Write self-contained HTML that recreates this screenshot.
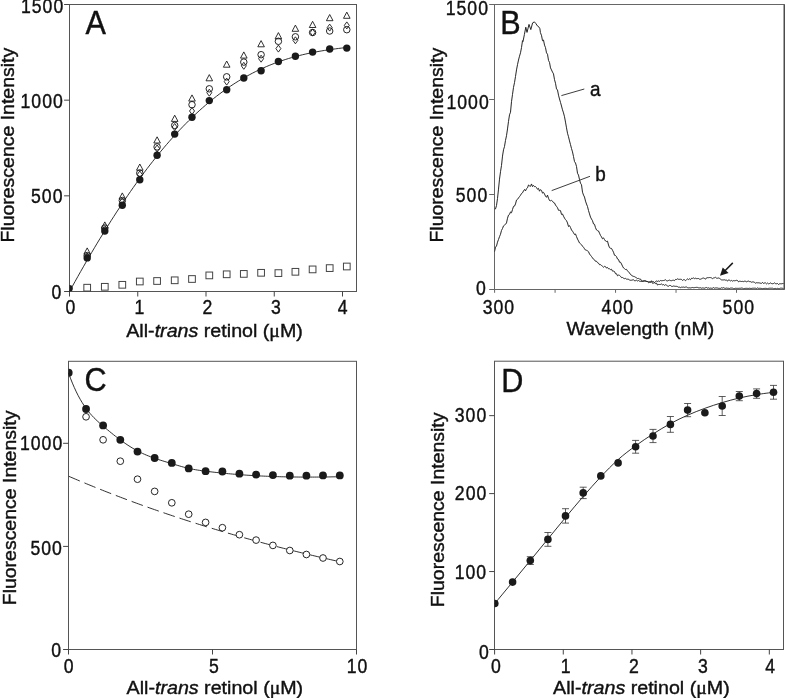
<!DOCTYPE html>
<html lang="en">
<head>
<meta charset="utf-8">
<title>Fluorescence titration of all-trans retinol</title>
<style>
html,body{margin:0;padding:0;background:#fff;}
body{width:785px;height:698px;overflow:hidden;}
svg{display:block;font-family:"Liberation Sans",sans-serif;}
text{fill:#111;stroke:#111;stroke-width:0.4px;}
</style>
</head>
<body>
<svg width="785" height="698" viewBox="0 0 785 698">
<rect x="0" y="0" width="785" height="698" fill="#fff"/>
<g id="panelA">
<rect x="69.5" y="4.5" width="287" height="287" fill="none" stroke="#555" stroke-width="1"/>
<line x1="64.1" y1="291.5" x2="69.5" y2="291.5" stroke="#444" stroke-width="1"/>
<text transform="translate(62.34 298.9) scale(0.9 1)" font-size="19.6" text-anchor="end" letter-spacing="1.15">0</text>
<line x1="64.1" y1="195.83" x2="69.5" y2="195.83" stroke="#444" stroke-width="1"/>
<text transform="translate(63.54 203.2) scale(0.9 1)" font-size="19.6" text-anchor="end" letter-spacing="1.15">500</text>
<line x1="64.1" y1="100.17" x2="69.5" y2="100.17" stroke="#444" stroke-width="1"/>
<text transform="translate(63.84 107.5) scale(0.9 1)" font-size="19.6" text-anchor="end" letter-spacing="1.15">1000</text>
<line x1="64.1" y1="4.5" x2="69.5" y2="4.5" stroke="#444" stroke-width="1"/>
<text transform="translate(64.24 13.4) scale(0.9 1)" font-size="19.6" text-anchor="end" letter-spacing="1.15">1500</text>
<line x1="69.5" y1="291.5" x2="69.5" y2="296.5" stroke="#444" stroke-width="1"/>
<text transform="translate(70.92 314) scale(0.9 1)" font-size="19.6" text-anchor="middle" letter-spacing="1.15">0</text>
<line x1="137.75" y1="291.5" x2="137.75" y2="296.5" stroke="#444" stroke-width="1"/>
<text transform="translate(139.82 313.8) scale(0.9 1)" font-size="19.6" text-anchor="middle" letter-spacing="1.15">1</text>
<line x1="206" y1="291.5" x2="206" y2="296.5" stroke="#444" stroke-width="1"/>
<text transform="translate(207.92 313.8) scale(0.9 1)" font-size="19.6" text-anchor="middle" letter-spacing="1.15">2</text>
<line x1="274.25" y1="291.5" x2="274.25" y2="296.5" stroke="#444" stroke-width="1"/>
<text transform="translate(276.32 313.8) scale(0.9 1)" font-size="19.6" text-anchor="middle" letter-spacing="1.15">3</text>
<line x1="342.5" y1="291.5" x2="342.5" y2="296.5" stroke="#444" stroke-width="1"/>
<text transform="translate(343.22 313.8) scale(0.9 1)" font-size="19.6" text-anchor="middle" letter-spacing="1.15">4</text>
<text transform="translate(214.55 337) scale(1.03 1)" font-size="19.1" text-anchor="middle">All-<tspan font-style="italic">trans</tspan> retinol (<tspan font-family="'Liberation Serif','DejaVu Serif',serif">μ</tspan>M)</text>
<text transform="translate(14 145.2) rotate(-90) scale(1.036 1)" font-size="18.8" text-anchor="middle">Fluorescence Intensity</text>
<text transform="translate(85.54 33.6) scale(0.948 1)" font-size="32.3" text-anchor="start">A</text>
<path d="M69.5 291.5C69.96 290.66 71.35 288.15 72.27 286.48C73.2 284.81 74.12 283.15 75.05 281.49C75.97 279.84 76.89 278.19 77.82 276.55C78.74 274.91 79.67 273.28 80.59 271.65C81.52 270.02 82.44 268.4 83.36 266.79C84.29 265.18 85.21 263.57 86.14 261.97C87.06 260.37 87.99 258.78 88.91 257.2C89.84 255.62 90.76 254.04 91.68 252.47C92.61 250.9 93.53 249.34 94.46 247.79C95.38 246.24 96.31 244.69 97.23 243.15C98.15 241.62 99.08 240.09 100 238.57C100.93 237.05 101.85 235.53 102.78 234.03C103.7 232.52 104.62 231.03 105.55 229.54C106.47 228.05 107.4 226.57 108.32 225.1C109.25 223.63 110.17 222.17 111.09 220.71C112.02 219.26 112.94 217.81 113.87 216.38C114.79 214.94 115.72 213.51 116.64 212.09C117.57 210.67 118.49 209.26 119.41 207.86C120.34 206.46 121.26 205.07 122.19 203.69C123.11 202.3 124.04 200.93 124.96 199.56C125.88 198.2 126.81 196.84 127.73 195.49C128.66 194.15 129.58 192.81 130.51 191.48C131.43 190.15 132.35 188.83 133.28 187.52C134.2 186.22 135.13 184.92 136.05 183.62C136.98 182.33 137.9 181.05 138.82 179.78C139.75 178.51 140.67 177.25 141.6 176C142.52 174.74 143.45 173.5 144.37 172.27C145.3 171.03 146.22 169.81 147.14 168.6C148.07 167.38 148.99 166.18 149.92 164.99C150.84 163.79 151.77 162.61 152.69 161.43C153.61 160.26 154.54 159.09 155.46 157.94C156.39 156.78 157.31 155.64 158.24 154.5C159.16 153.37 160.08 152.25 161.01 151.13C161.93 150.02 162.86 148.91 163.78 147.82C164.71 146.72 165.63 145.64 166.56 144.56C167.48 143.49 168.4 142.42 169.33 141.37C170.25 140.31 171.18 139.27 172.1 138.23C173.03 137.2 173.95 136.17 174.87 135.16C175.8 134.14 176.72 133.14 177.65 132.15C178.57 131.15 179.5 130.17 180.42 129.19C181.34 128.22 182.27 127.25 183.19 126.3C184.12 125.35 185.04 124.4 185.97 123.47C186.89 122.54 187.81 121.61 188.74 120.7C189.66 119.78 190.59 118.88 191.51 117.99C192.44 117.09 193.36 116.21 194.28 115.34C195.21 114.46 196.13 113.6 197.06 112.75C197.98 111.89 198.91 111.05 199.83 110.22C200.76 109.38 201.68 108.56 202.6 107.75C203.53 106.93 204.45 106.13 205.38 105.34C206.3 104.54 207.23 103.76 208.15 102.98C209.07 102.21 210 101.45 210.92 100.69C211.85 99.94 212.77 99.19 213.7 98.46C214.62 97.72 215.54 97 216.47 96.28C217.39 95.57 218.32 94.86 219.24 94.17C220.17 93.47 221.09 92.79 222.01 92.11C222.94 91.43 223.86 90.76 224.79 90.11C225.71 89.45 226.64 88.8 227.56 88.16C228.49 87.52 229.41 86.89 230.33 86.27C231.26 85.65 232.18 85.04 233.11 84.44C234.03 83.84 234.96 83.25 235.88 82.66C236.8 82.08 237.73 81.51 238.65 80.94C239.58 80.38 240.5 79.82 241.43 79.28C242.35 78.73 243.27 78.19 244.2 77.66C245.12 77.13 246.05 76.61 246.97 76.1C247.9 75.59 248.82 75.09 249.75 74.59C250.67 74.1 251.59 73.61 252.52 73.13C253.44 72.66 254.37 72.19 255.29 71.73C256.22 71.27 257.14 70.82 258.06 70.37C258.99 69.93 259.91 69.49 260.84 69.07C261.76 68.64 262.69 68.22 263.61 67.81C264.53 67.4 265.46 66.99 266.38 66.6C267.31 66.2 268.23 65.81 269.16 65.43C270.08 65.05 271 64.68 271.93 64.32C272.85 63.95 273.78 63.59 274.7 63.24C275.63 62.89 276.55 62.55 277.48 62.22C278.4 61.88 279.32 61.55 280.25 61.23C281.17 60.91 282.1 60.59 283.02 60.29C283.95 59.98 284.87 59.68 285.79 59.38C286.72 59.09 287.64 58.8 288.57 58.52C289.49 58.24 290.42 57.97 291.34 57.7C292.26 57.43 293.19 57.17 294.11 56.91C295.04 56.66 295.96 56.41 296.89 56.17C297.81 55.92 298.73 55.68 299.66 55.45C300.58 55.22 301.51 54.99 302.43 54.77C303.36 54.55 304.28 54.34 305.21 54.13C306.13 53.92 307.05 53.71 307.98 53.51C308.9 53.31 309.83 53.12 310.75 52.93C311.68 52.74 312.6 52.55 313.52 52.37C314.45 52.19 315.37 52.02 316.3 51.85C317.22 51.68 318.15 51.51 319.07 51.35C319.99 51.18 320.92 51.03 321.84 50.87C322.77 50.72 323.69 50.57 324.62 50.42C325.54 50.27 326.46 50.13 327.39 49.99C328.31 49.85 329.24 49.71 330.16 49.58C331.09 49.45 332.01 49.32 332.94 49.19C333.86 49.06 334.78 48.94 335.71 48.82C336.63 48.7 337.56 48.58 338.48 48.46C339.41 48.34 340.33 48.23 341.25 48.12C342.18 48.01 343.1 47.9 344.03 47.79C344.95 47.68 346.34 47.52 346.8 47.47" fill="none" stroke="#1a1a1a" stroke-width="0.9"/>
<rect x="83.85" y="284.35" width="6.7" height="6.7" fill="none" stroke="#444" stroke-width="1"/>
<rect x="101.45" y="283.45" width="6.7" height="6.7" fill="none" stroke="#444" stroke-width="1"/>
<rect x="118.95" y="281.45" width="6.7" height="6.7" fill="none" stroke="#444" stroke-width="1"/>
<rect x="136.45" y="278.15" width="6.7" height="6.7" fill="none" stroke="#444" stroke-width="1"/>
<rect x="153.75" y="277.65" width="6.7" height="6.7" fill="none" stroke="#444" stroke-width="1"/>
<rect x="171.35" y="276.95" width="6.7" height="6.7" fill="none" stroke="#444" stroke-width="1"/>
<rect x="188.65" y="275.65" width="6.7" height="6.7" fill="none" stroke="#444" stroke-width="1"/>
<rect x="205.95" y="272.05" width="6.7" height="6.7" fill="none" stroke="#444" stroke-width="1"/>
<rect x="223.35" y="270.95" width="6.7" height="6.7" fill="none" stroke="#444" stroke-width="1"/>
<rect x="240.45" y="270.55" width="6.7" height="6.7" fill="none" stroke="#444" stroke-width="1"/>
<rect x="257.75" y="269.45" width="6.7" height="6.7" fill="none" stroke="#444" stroke-width="1"/>
<rect x="275.05" y="269.75" width="6.7" height="6.7" fill="none" stroke="#444" stroke-width="1"/>
<rect x="292.05" y="268.45" width="6.7" height="6.7" fill="none" stroke="#444" stroke-width="1"/>
<rect x="309.25" y="266.05" width="6.7" height="6.7" fill="none" stroke="#444" stroke-width="1"/>
<rect x="326.35" y="264.75" width="6.7" height="6.7" fill="none" stroke="#444" stroke-width="1"/>
<rect x="343.45" y="263.15" width="6.7" height="6.7" fill="none" stroke="#444" stroke-width="1"/>
<path d="M87.2 253L89.7 256.5L87.2 260L84.7 256.5Z" fill="none" stroke="#1a1a1a" stroke-width="0.9"/>
<circle cx="87.2" cy="255.5" r="3.25" fill="none" stroke="#1a1a1a" stroke-width="0.95"/>
<path d="M87.2 247.9L90.5 254.1L83.9 254.1Z" fill="none" stroke="#1a1a1a" stroke-width="0.9"/>
<path d="M104.8 225.5L107.3 229L104.8 232.5L102.3 229Z" fill="none" stroke="#1a1a1a" stroke-width="0.9"/>
<circle cx="104.8" cy="228" r="3.25" fill="none" stroke="#1a1a1a" stroke-width="0.95"/>
<path d="M104.8 221.9L108.1 228.1L101.5 228.1Z" fill="none" stroke="#1a1a1a" stroke-width="0.9"/>
<path d="M122.3 198L124.8 201.5L122.3 205L119.8 201.5Z" fill="none" stroke="#1a1a1a" stroke-width="0.9"/>
<circle cx="122.3" cy="200.5" r="3.25" fill="none" stroke="#1a1a1a" stroke-width="0.95"/>
<path d="M122.3 192.9L125.6 199.1L119 199.1Z" fill="none" stroke="#1a1a1a" stroke-width="0.9"/>
<path d="M139.8 171L142.3 174.5L139.8 178L137.3 174.5Z" fill="none" stroke="#1a1a1a" stroke-width="0.9"/>
<circle cx="139.8" cy="173.1" r="3.25" fill="none" stroke="#1a1a1a" stroke-width="0.95"/>
<path d="M139.8 164L143.1 170.2L136.5 170.2Z" fill="none" stroke="#1a1a1a" stroke-width="0.9"/>
<path d="M157.1 145L159.6 148.5L157.1 152L154.6 148.5Z" fill="none" stroke="#1a1a1a" stroke-width="0.9"/>
<circle cx="157.1" cy="146.9" r="3.25" fill="none" stroke="#1a1a1a" stroke-width="0.95"/>
<path d="M157.1 136.8L160.4 143L153.8 143Z" fill="none" stroke="#1a1a1a" stroke-width="0.9"/>
<path d="M174.7 123.5L177.2 127L174.7 130.5L172.2 127Z" fill="none" stroke="#1a1a1a" stroke-width="0.9"/>
<circle cx="174.7" cy="125.4" r="3.25" fill="none" stroke="#1a1a1a" stroke-width="0.95"/>
<path d="M174.7 115.2L178 121.4L171.4 121.4Z" fill="none" stroke="#1a1a1a" stroke-width="0.9"/>
<path d="M192 107.5L194.5 111L192 114.5L189.5 111Z" fill="none" stroke="#1a1a1a" stroke-width="0.9"/>
<circle cx="192" cy="104.7" r="3.25" fill="none" stroke="#1a1a1a" stroke-width="0.95"/>
<path d="M192 94.9L195.3 101.1L188.7 101.1Z" fill="none" stroke="#1a1a1a" stroke-width="0.9"/>
<path d="M209.3 89.2L211.8 92.7L209.3 96.2L206.8 92.7Z" fill="none" stroke="#1a1a1a" stroke-width="0.9"/>
<circle cx="209.3" cy="88.8" r="3.25" fill="none" stroke="#1a1a1a" stroke-width="0.95"/>
<path d="M209.3 74.6L212.6 80.8L206 80.8Z" fill="none" stroke="#1a1a1a" stroke-width="0.9"/>
<path d="M226.7 78.1L229.2 81.6L226.7 85.1L224.2 81.6Z" fill="none" stroke="#1a1a1a" stroke-width="0.9"/>
<circle cx="226.7" cy="76.8" r="3.25" fill="none" stroke="#1a1a1a" stroke-width="0.95"/>
<path d="M226.7 61L230 67.2L223.4 67.2Z" fill="none" stroke="#1a1a1a" stroke-width="0.9"/>
<path d="M243.8 62.3L246.3 65.8L243.8 69.3L241.3 65.8Z" fill="none" stroke="#1a1a1a" stroke-width="0.9"/>
<circle cx="243.8" cy="62.1" r="3.25" fill="none" stroke="#1a1a1a" stroke-width="0.95"/>
<path d="M243.8 51.9L247.1 58.1L240.5 58.1Z" fill="none" stroke="#1a1a1a" stroke-width="0.9"/>
<path d="M261.1 55.2L263.6 58.7L261.1 62.2L258.6 58.7Z" fill="none" stroke="#1a1a1a" stroke-width="0.9"/>
<circle cx="261.1" cy="54.7" r="3.25" fill="none" stroke="#1a1a1a" stroke-width="0.95"/>
<path d="M261.1 40.6L264.4 46.8L257.8 46.8Z" fill="none" stroke="#1a1a1a" stroke-width="0.9"/>
<path d="M278.4 45.1L280.9 48.6L278.4 52.1L275.9 48.6Z" fill="none" stroke="#1a1a1a" stroke-width="0.9"/>
<circle cx="278.4" cy="41.3" r="3.25" fill="none" stroke="#1a1a1a" stroke-width="0.95"/>
<path d="M278.4 32.6L281.7 38.8L275.1 38.8Z" fill="none" stroke="#1a1a1a" stroke-width="0.9"/>
<path d="M295.4 36.8L297.9 40.3L295.4 43.8L292.9 40.3Z" fill="none" stroke="#1a1a1a" stroke-width="0.9"/>
<circle cx="295.4" cy="36.8" r="3.25" fill="none" stroke="#1a1a1a" stroke-width="0.95"/>
<path d="M295.4 25.1L298.7 31.3L292.1 31.3Z" fill="none" stroke="#1a1a1a" stroke-width="0.9"/>
<path d="M312.6 29L315.1 32.5L312.6 36L310.1 32.5Z" fill="none" stroke="#1a1a1a" stroke-width="0.9"/>
<circle cx="312.6" cy="32.5" r="3.25" fill="none" stroke="#1a1a1a" stroke-width="0.95"/>
<path d="M312.6 21.3L315.9 27.5L309.3 27.5Z" fill="none" stroke="#1a1a1a" stroke-width="0.9"/>
<path d="M329.7 24.1L332.2 27.6L329.7 31.1L327.2 27.6Z" fill="none" stroke="#1a1a1a" stroke-width="0.9"/>
<circle cx="329.7" cy="31" r="3.25" fill="none" stroke="#1a1a1a" stroke-width="0.95"/>
<path d="M329.7 14.5L333 20.7L326.4 20.7Z" fill="none" stroke="#1a1a1a" stroke-width="0.9"/>
<path d="M346.8 21.9L349.3 25.4L346.8 28.9L344.3 25.4Z" fill="none" stroke="#1a1a1a" stroke-width="0.9"/>
<circle cx="346.8" cy="29.7" r="3.25" fill="none" stroke="#1a1a1a" stroke-width="0.95"/>
<path d="M346.8 12.1L350.1 18.3L343.5 18.3Z" fill="none" stroke="#1a1a1a" stroke-width="0.9"/>
<circle cx="87.2" cy="257.9" r="3.7" fill="#1a1a1a"/>
<circle cx="104.8" cy="231" r="3.7" fill="#1a1a1a"/>
<circle cx="122.3" cy="205.2" r="3.7" fill="#1a1a1a"/>
<circle cx="139.8" cy="179.7" r="3.7" fill="#1a1a1a"/>
<circle cx="157.1" cy="155.2" r="3.7" fill="#1a1a1a"/>
<circle cx="174.7" cy="134.1" r="3.7" fill="#1a1a1a"/>
<circle cx="192" cy="117.3" r="3.7" fill="#1a1a1a"/>
<circle cx="209.3" cy="100.6" r="3.7" fill="#1a1a1a"/>
<circle cx="226.7" cy="89.8" r="3.7" fill="#1a1a1a"/>
<circle cx="243.8" cy="78" r="3.7" fill="#1a1a1a"/>
<circle cx="261.1" cy="70.8" r="3.7" fill="#1a1a1a"/>
<circle cx="278.4" cy="61.5" r="3.7" fill="#1a1a1a"/>
<circle cx="295.4" cy="56.2" r="3.7" fill="#1a1a1a"/>
<circle cx="312.6" cy="52.1" r="3.7" fill="#1a1a1a"/>
<circle cx="329.7" cy="49" r="3.7" fill="#1a1a1a"/>
<circle cx="346.8" cy="48.1" r="3.7" fill="#1a1a1a"/>
<clipPath id="clipA"><rect x="69.5" y="4.5" width="287.0" height="287.0"/></clipPath>
<circle cx="69.5" cy="288.4" r="3.3" fill="#1a1a1a" clip-path="url(#clipA)"/>
</g>
<g id="panelB">
<rect x="494.5" y="4.5" width="289.7" height="285" fill="none" stroke="#666" stroke-width="1"/>
<line x1="784.3" y1="4.5" x2="784.3" y2="289.5" stroke="#444" stroke-width="1.2"/>
<line x1="489.2" y1="289.5" x2="494.5" y2="289.5" stroke="#666" stroke-width="1"/>
<text transform="translate(486.74 295.2) scale(0.9 1)" font-size="19.6" text-anchor="end" letter-spacing="1.15">0</text>
<line x1="489.2" y1="194.5" x2="494.5" y2="194.5" stroke="#666" stroke-width="1"/>
<text transform="translate(488.24 202.1) scale(0.9 1)" font-size="19.6" text-anchor="end" letter-spacing="1.15">500</text>
<line x1="489.2" y1="99.5" x2="494.5" y2="99.5" stroke="#666" stroke-width="1"/>
<text transform="translate(489.74 108.5) scale(0.9 1)" font-size="19.6" text-anchor="end" letter-spacing="1.15">1000</text>
<line x1="489.2" y1="4.5" x2="494.5" y2="4.5" stroke="#666" stroke-width="1"/>
<text transform="translate(489.04 14.7) scale(0.9 1)" font-size="19.6" text-anchor="end" letter-spacing="1.15">1500</text>
<line x1="494.6" y1="289.5" x2="494.6" y2="292.8" stroke="#666" stroke-width="1"/>
<line x1="555.08" y1="289.5" x2="555.08" y2="292.8" stroke="#666" stroke-width="1"/>
<line x1="615.56" y1="289.5" x2="615.56" y2="292.8" stroke="#666" stroke-width="1"/>
<line x1="676.04" y1="289.5" x2="676.04" y2="292.8" stroke="#666" stroke-width="1"/>
<line x1="736.52" y1="289.5" x2="736.52" y2="292.8" stroke="#666" stroke-width="1"/>
<text transform="translate(498.92 314.1) scale(0.9 1)" font-size="19.6" text-anchor="middle" letter-spacing="1.15">300</text>
<text transform="translate(617.82 314.1) scale(0.9 1)" font-size="19.6" text-anchor="middle" letter-spacing="1.15">400</text>
<text transform="translate(738.82 314.1) scale(0.9 1)" font-size="19.6" text-anchor="middle" letter-spacing="1.15">500</text>
<text transform="translate(640.35 335.3) scale(1.02 1)" font-size="19.1" text-anchor="middle">Wavelength (nM)</text>
<text transform="translate(443 145.2) rotate(-90) scale(1.036 1)" font-size="18.8" text-anchor="middle">Fluorescence Intensity</text>
<text transform="translate(500.19 33.6) scale(0.948 1)" font-size="32.3" text-anchor="start">B</text>
<clipPath id="clipB"><rect x="494.5" y="4.5" width="289.70000000000005" height="285.0"/></clipPath>
<g clip-path="url(#clipB)" fill="none" stroke="#1a1a1a" stroke-width="0.95" stroke-linejoin="round">
<path d="M494.5 208.95L495.5 208.92L496.5 205.52L497.5 198.47L498.5 189.13L499.5 179.15L500.5 171.72L501.5 165.42L502.5 156.11L503.5 149.86L504.5 146.47L505.5 140.39L506.5 135.7L507.5 128.95L508.5 121.39L509.5 114.86L510.5 112.18L511.5 101.68L512.5 94.45L513.5 87.38L514.5 82.64L515.5 76.49L516.5 69.91L517.5 64.7L518.5 60.06L519.5 56.2L520.5 52.77L521.5 47.58L522.5 40.66L523 41.5L524.4 34.5L525.8 27.2L527 32.4L529 24.4L530.8 29.6L532.6 22.9L534.4 21.9L535.9 23.6L537.3 25.8L538.6 26.6L539.9 28.7L540.4 32.5L541.6 35.8L542.5 40.72L543.5 40.02L544.5 45.11L545.5 47.63L546.5 52.87L547.5 54.22L548.5 60.4L549.5 62.38L550.5 67.86L551.5 69.93L552.5 72.11L553.5 73.85L554.5 79.68L555.5 83.24L556.5 88.95L557.5 89.98L558.5 95.18L559.5 98.97L560.5 102.42L561.5 106.04L562.5 109.84L563.5 112.88L564.5 116.75L565.5 122.11L566.5 127.83L567.5 133.24L568.5 136.72L569.5 140.92L570.5 144.63L571.5 148.55L572.5 151.91L573.5 156.54L574.5 161.6L575.5 163.02L576.5 166.45L577.5 173.24L578.5 175.09L579.5 179.62L580.5 183.21L581.5 184.77L582.5 192.16L583.5 195.08L584.5 197.02L585.5 201.1L586.5 204.03L587.5 206.55L588.5 210.55L589.5 213.89L590.5 217.11L591.5 219.07L592.5 220.7L593.5 223.96L594.5 224.27L595.5 227.7L596.5 229.95L597.5 230.6L598.5 230.98L599.5 233.16L600.5 235.42L601.5 236.89L602.5 238.84L603.5 237.86L604.5 239.56L605.5 241.01L606.5 241.48L607.5 241.15L608.5 245L609.5 247.66L610.5 248.26L611.5 248.41L612.5 250.28L613.5 252.24L614.5 255.26L615.5 255.51L616.5 256.66L617.5 259.06L618.5 259.5L619.5 262.19L620.5 262.21L621.5 263.95L622.5 266.18L623.5 267.94L624.5 268.67L625.5 269.5L626.5 269.34L627.5 270.86L628.5 271.89L629.5 272.96L630.5 274.51L631.5 274.97L632.5 276.18L633.5 276.39L634.5 276.66L635.5 277.28L636.5 277.84L637.5 278.5L638.5 278.43L639.5 279.03L640.5 279.04L641.5 280.66L642.5 280.94L643.5 280.58L644.5 280.72L645.5 280.66L646.5 281.42L647.5 281.66L648.5 282.64L649.5 282.16L650.5 282.03L651.5 281.68L652.5 283.3L653.5 283.1L654.5 282.69L655.5 283.54L656.5 283.14L657.5 285.07L658.5 284.48L659.5 284.49L660.5 284.43L661.5 283.99L662.5 284.82L663.5 284.55L664.5 285.38L665.5 284.69L666.5 285.2L667.5 285.97L668.5 286.21L669.5 285.48L670.5 285.5L671.5 286.31L672.5 286.42L673.5 286.01L674.5 286.21L675.5 286.34L676.5 286.32L677.5 286.58L678.5 287.21L679.5 287.17L680.5 287.62L681.5 287.15L682.5 287.22L683.5 287.07L684.5 287.35L685.5 287.09L686.5 287.01L687.5 287.67L688.5 287.89L689.5 287.77L690.5 287.93L691.5 287.69L692.5 287.48L693.5 287.7L694.5 287.62L695.5 287.46L696.5 287.35L697.5 287.42L698.5 287.8L699.5 287.86L700.5 287.73L701.5 288.2L702.5 287.92L703.5 288.03L704.5 288.2L705.5 287.74L706.5 287.48L707.5 288.14L708.5 287.82L709.5 288.3L710.5 288.09L711.5 288.26L712.5 288.21L713.5 287.57L714.5 288.23L715.5 287.93L716.5 287.92L717.5 288.01L718.5 288.3L719.5 288.34L720.5 288.38L721.5 287.79L722.5 288.04L723.5 287.65L724.5 288.17L725.5 288.34L726.5 288.05L727.5 288.28L728.5 288.29L729.5 288.47L730.5 288.08L731.5 288.08L732.5 288.11L733.5 288.67L734.5 288.53L735.5 288.27L736.5 288.35L737.5 288.33L738.5 288.36L739.5 288.28L740.5 288.25L741.5 288.06L742.5 288.2L743.5 288.71L744.5 288.47L745.5 288.37L746.5 288.32L747.5 288.38L748.5 288.45L749.5 288.24L750.5 288.43L751.5 288.45L752.5 288.24L753.5 288.23L754.5 288.19L755.5 288.19L756.5 288.61L757.5 287.92L758.5 288.37L759.5 288.3L760.5 288.31L761.5 288.46L762.5 288.69L763.5 288.47L764.5 288.43L765.5 288.33L766.5 288.44L767.5 288.66L768.5 288.39L769.5 288.23L770.5 288.21L771.5 288.24L772.5 288.19L773.5 288.72L774.5 288.56L775.5 288.44L776.5 288.8L777.5 288.35L778.5 288.65L779.5 288.67L780.5 288.17L781.5 288.17L782.5 288.3L783.5 288.69"/>
<path d="M494.5 251.79L495.5 247.16L496.5 245.99L497.5 242.18L498.5 239.46L499.5 236.68L500.5 234.24L501.5 230.42L502.5 228.53L503.5 225.89L504.5 225.08L505.5 224.35L506.5 222.92L507.5 218.26L508.5 215.1L509.5 214.38L510.5 211.96L511.5 212.75L512.5 209.53L513.5 206.4L514.5 206.14L515.5 203.95L516.5 200.06L517.5 199.36L518.5 197.94L519.5 196.6L520.5 195.28L521.5 193.5L522.5 192.82L523.5 190.88L524.5 189.47L525.5 190.87L526.5 188.63L527.5 187.82L528.5 184.99L529.5 185.84L530.5 186.37L531.5 183.94L532.5 186.61L533.5 185.4L534.5 186.69L535.5 186.6L536.5 187.56L537.5 189.28L538.5 188.36L539.5 191.21L540.5 189.62L541.5 190.42L542.5 193.13L543.5 192.34L544.5 194.02L545.5 196.19L546.5 197.32L547.5 195.14L548.5 198.26L549.5 200.51L550.5 200.78L551.5 200.4L552.5 201.15L553.5 202.6L554.5 202.96L555.5 205.05L556.5 206.38L557.5 207.71L558.5 210.3L559.5 210.35L560.5 210.64L561.5 214.42L562.5 214L563.5 216.19L564.5 218.13L565.5 219.62L566.5 220.69L567.5 222.94L568.5 226.55L569.5 225.63L570.5 227.48L571.5 230L572.5 231.18L573.5 232.76L574.5 234.5L575.5 233.97L576.5 236.59L577.5 239.06L578.5 240.93L579.5 243L580.5 243.81L581.5 244.68L582.5 246.21L583.5 247.28L584.5 248.76L585.5 250.1L586.5 250.3L587.5 250.84L588.5 251.7L589.5 253.99L590.5 255.26L591.5 256.48L592.5 257.88L593.5 259.21L594.5 259.82L595.5 261.3L596.5 261.25L597.5 262.65L598.5 263.13L599.5 264.71L600.5 264.61L601.5 265.47L602.5 266.27L603.5 267.22L604.5 266.39L605.5 266.67L606.5 268.05L607.5 267.46L608.5 268.81L609.5 268.79L610.5 269.58L611.5 269.24L612.5 271.14L613.5 271.12L614.5 271.56L615.5 273.7L616.5 273.74L617.5 275.82L618.5 275.07L619.5 275.4L620.5 276.28L621.5 277.61L622.5 277.49L623.5 278.21L624.5 278.64L625.5 278.4L626.5 279.16L627.5 279.17L628.5 279.1L629.5 280.17L630.5 280.28L631.5 280.21L632.5 279.97L633.5 279.68L634.5 280.8L635.5 280.7L636.5 280.21L637.5 280.97L638.5 280.52L639.5 281.19L640.5 281.34L641.5 281.49L642.5 281.49L643.5 281.52L644.5 281.06L645.5 281.38L646.5 281.37L647.5 281.51L648.5 281.73L649.5 281.88L650.5 282.29L651.5 280.72L652.5 281.85L653.5 281.63L654.5 282.54L655.5 281.94L656.5 280.82L657.5 281.44L658.5 280.93L659.5 281.39L660.5 280.48L661.5 280.73L662.5 280.61L663.5 280.53L664.5 280.28L665.5 279.77L666.5 280.68L667.5 280.89L668.5 280.47L669.5 280.1L670.5 280.58L671.5 280.71L672.5 280.33L673.5 280.24L674.5 280.63L675.5 279.42L676.5 279.49L677.5 278.84L678.5 279.32L679.5 279.32L680.5 279.26L681.5 279.42L682.5 280.47L683.5 279.7L684.5 279.75L685.5 280.68L686.5 279.68L687.5 278.86L688.5 279.56L689.5 278.8L690.5 279.68L691.5 278.29L692.5 278.43L693.5 277.93L694.5 278.65L695.5 278.2L696.5 278.64L697.5 278.56L698.5 278.5L699.5 279.19L700.5 279.19L701.5 278.77L702.5 278.26L703.5 278.04L704.5 278.45L705.5 279.21L706.5 277.87L707.5 277.67L708.5 277.7L709.5 277.53L710.5 277.58L711.5 277.91L712.5 278.62L713.5 278L714.5 277.78L715.5 277.3L716.5 278.15L717.5 278.23L718.5 277.98L719.5 278.36L720.5 279.12L721.5 279.86L722.5 279.94L723.5 279.92L724.5 279.82L725.5 280.18L726.5 280.14L727.5 281.1L728.5 279.86L729.5 280.23L730.5 280.95L731.5 280.41L732.5 281.13L733.5 280.62L734.5 280.76L735.5 280.62L736.5 280.3L737.5 280.52L738.5 281.82L739.5 281.26L740.5 281.3L741.5 281.49L742.5 281.39L743.5 281.62L744.5 281.19L745.5 281.27L746.5 281.8L747.5 281.36L748.5 281.08L749.5 281.6L750.5 281.63L751.5 282.23L752.5 281.92L753.5 281.97L754.5 282.39L755.5 283.2L756.5 282.69L757.5 282.82L758.5 282.81L759.5 282.95L760.5 283.21L761.5 283.4L762.5 282.34L763.5 283.44L764.5 282.98L765.5 282.9L766.5 283.89L767.5 283.03L768.5 283.82L769.5 283.54L770.5 282.93L771.5 283.54L772.5 283.72L773.5 283.52L774.5 282.86L775.5 283.62L776.5 283.74L777.5 283.48L778.5 284.51L779.5 283.82L780.5 283.76L781.5 283.77L782.5 283.57L783.5 283.53"/>
</g>
<line x1="561.4" y1="95.6" x2="584.3" y2="89.0" stroke="#1a1a1a" stroke-width="0.85"/>
<text transform="translate(590.08 95.9) scale(0.97 1)" font-size="19.5" text-anchor="start">a</text>
<line x1="551.7" y1="190.6" x2="590" y2="176.3" stroke="#1a1a1a" stroke-width="0.85"/>
<text transform="translate(595.33 180.8) scale(0.97 1)" font-size="19.5" text-anchor="start">b</text>
<line x1="732.8" y1="262.9" x2="724.5" y2="271.2" stroke="#1a1a1a" stroke-width="1.5"/>
<path d="M720 275.7 L722.7 267.6 L728.6 273.0 Z" fill="#1a1a1a"/>
</g>
<g id="panelC">
<rect x="68.5" y="361.3" width="288" height="288.2" fill="none" stroke="#555" stroke-width="1"/>
<line x1="63.1" y1="649.5" x2="68.5" y2="649.5" stroke="#444" stroke-width="1"/>
<text transform="translate(62.14 657.4) scale(0.9 1)" font-size="19.6" text-anchor="end" letter-spacing="1.15">0</text>
<line x1="63.1" y1="546.4" x2="68.5" y2="546.4" stroke="#444" stroke-width="1"/>
<text transform="translate(62.94 554.8) scale(0.9 1)" font-size="19.6" text-anchor="end" letter-spacing="1.15">500</text>
<line x1="63.1" y1="443.3" x2="68.5" y2="443.3" stroke="#444" stroke-width="1"/>
<text transform="translate(63.24 450.4) scale(0.9 1)" font-size="19.6" text-anchor="end" letter-spacing="1.15">1000</text>
<line x1="68.5" y1="649.5" x2="68.5" y2="654.5" stroke="#444" stroke-width="1"/>
<text transform="translate(69.22 673.1) scale(0.9 1)" font-size="19.6" text-anchor="middle" letter-spacing="1.15">0</text>
<line x1="212.5" y1="649.5" x2="212.5" y2="654.5" stroke="#444" stroke-width="1"/>
<text transform="translate(214.52 673) scale(0.9 1)" font-size="19.6" text-anchor="middle" letter-spacing="1.15">5</text>
<line x1="356.5" y1="649.5" x2="356.5" y2="654.5" stroke="#444" stroke-width="1"/>
<text transform="translate(357.52 673.1) scale(0.9 1)" font-size="19.6" text-anchor="middle" letter-spacing="1.15">10</text>
<text transform="translate(214.85 693.5) scale(1.03 1)" font-size="19.1" text-anchor="middle">All-<tspan font-style="italic">trans</tspan> retinol (<tspan font-family="'Liberation Serif','DejaVu Serif',serif">μ</tspan>M)</text>
<text transform="translate(15.9 507.9) rotate(-90) scale(1.036 1)" font-size="18.8" text-anchor="middle">Fluorescence Intensity</text>
<text transform="translate(84.57 391.2) scale(0.948 1)" font-size="32.3" text-anchor="start">C</text>
<clipPath id="clipC"><rect x="68.5" y="361.3" width="288.0" height="288.2"/></clipPath>
<path d="M68.5 372.87L70.45 378.19L72.4 383.12L74.36 387.67L76.31 391.87L78.26 395.74L80.21 399.31L82.16 402.59L84.11 405.61L86.07 408.4L88.02 410.97L89.97 413.35L91.92 415.56L93.87 417.62L95.83 419.56L97.78 421.4L99.73 423.16L101.68 424.86L103.63 426.54L105.58 428.19L107.54 429.82L109.49 431.44L111.44 433.03L113.39 434.59L115.34 436.13L117.29 437.64L119.25 439.11L121.2 440.55L123.15 441.95L125.1 443.32L127.05 444.64L129.01 445.92L130.96 447.15L132.91 448.34L134.86 449.47L136.81 450.55L138.76 451.58L140.72 452.55L142.67 453.48L144.62 454.35L146.57 455.19L148.52 455.98L150.48 456.74L152.43 457.46L154.38 458.16L156.33 458.83L158.28 459.48L160.23 460.11L162.19 460.72L164.14 461.32L166.09 461.92L168.04 462.5L169.99 463.09L171.95 463.68L173.9 464.27L175.85 464.86L177.8 465.45L179.75 466.02L181.7 466.58L183.66 467.12L185.61 467.64L187.56 468.12L189.51 468.57L191.46 468.98L193.42 469.36L195.37 469.7L197.32 470.02L199.27 470.32L201.22 470.6L203.17 470.87L205.13 471.13L207.08 471.37L209.03 471.62L210.98 471.85L212.93 472.08L214.88 472.3L216.84 472.52L218.79 472.73L220.74 472.94L222.69 473.14L224.64 473.34L226.6 473.52L228.55 473.71L230.5 473.89L232.45 474.06L234.4 474.22L236.35 474.39L238.31 474.54L240.26 474.69L242.21 474.84L244.16 474.98L246.11 475.11L248.07 475.25L250.02 475.37L251.97 475.49L253.92 475.61L255.87 475.72L257.82 475.82L259.78 475.93L261.73 476.02L263.68 476.11L265.63 476.2L267.58 476.28L269.54 476.36L271.49 476.44L273.44 476.51L275.39 476.57L277.34 476.63L279.29 476.69L281.25 476.75L283.2 476.79L285.15 476.84L287.1 476.88L289.05 476.92L291.01 476.95L292.96 476.98L294.91 477.01L296.86 477.03L298.81 477.05L300.76 477.06L302.72 477.08L304.67 477.08L306.62 477.09L308.57 477.09L310.52 477.09L312.47 477.09L314.43 477.08L316.38 477.07L318.33 477.05L320.28 477.04L322.23 477.02L324.19 476.99L326.14 476.97L328.09 476.94L330.04 476.91L331.99 476.87L333.94 476.84L335.9 476.8L337.85 476.76L339.8 476.71" fill="none" stroke="#1a1a1a" stroke-width="0.9"/>
<path d="M68.5 476.18L70.76 477.15L73.02 478.12L75.28 479.08L77.54 480.04L79.8 480.99L82.06 481.93L84.33 482.87L86.59 483.81L88.85 484.74L91.11 485.66L93.37 486.58L95.63 487.5L97.89 488.41L100.15 489.31L102.41 490.21L104.67 491.11L106.93 492L109.2 492.88L111.46 493.76L113.72 494.64L115.98 495.51L118.24 496.37L120.5 497.23L122.76 498.09L125.02 498.94L127.28 499.79L129.54 500.63L131.8 501.47L134.06 502.3L136.32 503.13L138.59 503.95L140.85 504.77L143.11 505.58L145.37 506.39L147.63 507.2L149.89 508L152.15 508.8L154.41 509.59L156.67 510.38L158.93 511.16L161.19 511.94L163.45 512.72L165.72 513.49L167.98 514.25L170.24 515.02L172.5 515.77L174.76 516.53L177.02 517.28L179.28 518.02L181.54 518.77L183.8 519.5L186.06 520.24L188.32 520.97L190.59 521.69L192.85 522.41L195.11 523.13L197.37 523.84L199.63 524.55L201.89 525.26L204.15 525.96L206.41 526.66L208.67 527.35L210.93 528.04L213.19 528.73L215.45 529.41L217.72 530.09L219.98 530.77L222.24 531.44L224.5 532.11L226.76 532.77L229.02 533.43L231.28 534.09L233.54 534.74L235.8 535.39L238.06 536.04L240.32 536.68L242.58 537.32L244.84 537.95L247.11 538.59L249.37 539.21L251.63 539.84L253.89 540.46L256.15 541.08L258.41 541.69L260.67 542.31L262.93 542.91L265.19 543.52L267.45 544.12L269.71 544.72L271.98 545.31L274.24 545.9L276.5 546.49L278.76 547.08L281.02 547.66L283.28 548.24L285.54 548.81L287.8 549.38L290.06 549.95L292.32 550.52L294.58 551.08L296.84 551.64L299.11 552.2L301.37 552.75L303.63 553.3L305.89 553.85L308.15 554.39L310.41 554.94L312.67 555.47L314.93 556.01L317.19 556.54L319.45 557.07L321.71 557.6L323.97 558.12L326.24 558.64L328.5 559.16L330.76 559.68L333.02 560.19L335.28 560.7L337.54 561.21L339.8 561.71" fill="none" stroke="#1a1a1a" stroke-width="0.9" stroke-dasharray="11.9 5" stroke-dashoffset="-0.4"/>
<circle cx="86.05" cy="416.8" r="3.35" fill="#fff" stroke="#1a1a1a" stroke-width="0.95"/>
<circle cx="103.1" cy="439.8" r="3.35" fill="#fff" stroke="#1a1a1a" stroke-width="0.95"/>
<circle cx="120.3" cy="461.2" r="3.35" fill="#fff" stroke="#1a1a1a" stroke-width="0.95"/>
<circle cx="137.5" cy="479.2" r="3.35" fill="#fff" stroke="#1a1a1a" stroke-width="0.95"/>
<circle cx="154.65" cy="491.4" r="3.35" fill="#fff" stroke="#1a1a1a" stroke-width="0.95"/>
<circle cx="171.8" cy="502.8" r="3.35" fill="#fff" stroke="#1a1a1a" stroke-width="0.95"/>
<circle cx="188.7" cy="514.2" r="3.35" fill="#fff" stroke="#1a1a1a" stroke-width="0.95"/>
<circle cx="205.6" cy="522.4" r="3.35" fill="#fff" stroke="#1a1a1a" stroke-width="0.95"/>
<circle cx="222.4" cy="527.7" r="3.35" fill="#fff" stroke="#1a1a1a" stroke-width="0.95"/>
<circle cx="239.4" cy="534.7" r="3.35" fill="#fff" stroke="#1a1a1a" stroke-width="0.95"/>
<circle cx="256.1" cy="540.1" r="3.35" fill="#fff" stroke="#1a1a1a" stroke-width="0.95"/>
<circle cx="272.9" cy="545.4" r="3.35" fill="#fff" stroke="#1a1a1a" stroke-width="0.95"/>
<circle cx="289.8" cy="550.5" r="3.35" fill="#fff" stroke="#1a1a1a" stroke-width="0.95"/>
<circle cx="306.4" cy="554.5" r="3.35" fill="#fff" stroke="#1a1a1a" stroke-width="0.95"/>
<circle cx="323" cy="558" r="3.35" fill="#fff" stroke="#1a1a1a" stroke-width="0.95"/>
<circle cx="339.8" cy="561.5" r="3.35" fill="#fff" stroke="#1a1a1a" stroke-width="0.95"/>
<g clip-path="url(#clipC)">
<circle cx="68.7" cy="372.7" r="3.9" fill="#1a1a1a"/>
<circle cx="86.05" cy="409" r="3.9" fill="#1a1a1a"/>
<circle cx="103.1" cy="425.4" r="3.9" fill="#1a1a1a"/>
<circle cx="120.3" cy="439.8" r="3.9" fill="#1a1a1a"/>
<circle cx="137.5" cy="451.6" r="3.9" fill="#1a1a1a"/>
<circle cx="154.65" cy="458" r="3.9" fill="#1a1a1a"/>
<circle cx="171.8" cy="462.9" r="3.9" fill="#1a1a1a"/>
<circle cx="188.7" cy="468.4" r="3.9" fill="#1a1a1a"/>
<circle cx="205.6" cy="471.2" r="3.9" fill="#1a1a1a"/>
<circle cx="222.4" cy="471.5" r="3.9" fill="#1a1a1a"/>
<circle cx="239.4" cy="473.7" r="3.9" fill="#1a1a1a"/>
<circle cx="256.1" cy="474.6" r="3.9" fill="#1a1a1a"/>
<circle cx="272.9" cy="475.1" r="3.9" fill="#1a1a1a"/>
<circle cx="289.8" cy="475.7" r="3.9" fill="#1a1a1a"/>
<circle cx="306.4" cy="475.7" r="3.9" fill="#1a1a1a"/>
<circle cx="323" cy="475.4" r="3.9" fill="#1a1a1a"/>
<circle cx="339.8" cy="475.4" r="3.9" fill="#1a1a1a"/>
</g>
</g>
<g id="panelD">
<rect x="494.5" y="361.2" width="289" height="288.3" fill="none" stroke="#555" stroke-width="1"/>
<line x1="489.2" y1="649.5" x2="494.5" y2="649.5" stroke="#444" stroke-width="1"/>
<text transform="translate(489.84 658.7) scale(0.9 1)" font-size="19.6" text-anchor="end" letter-spacing="1.15">0</text>
<line x1="489.2" y1="571.55" x2="494.5" y2="571.55" stroke="#444" stroke-width="1"/>
<text transform="translate(487.14 579) scale(0.9 1)" font-size="19.6" text-anchor="end" letter-spacing="1.15">100</text>
<line x1="489.2" y1="493.6" x2="494.5" y2="493.6" stroke="#444" stroke-width="1"/>
<text transform="translate(487.34 500) scale(0.9 1)" font-size="19.6" text-anchor="end" letter-spacing="1.15">200</text>
<line x1="489.2" y1="415.65" x2="494.5" y2="415.65" stroke="#444" stroke-width="1"/>
<text transform="translate(487.24 422.4) scale(0.9 1)" font-size="19.6" text-anchor="end" letter-spacing="1.15">300</text>
<line x1="494.6" y1="649.5" x2="494.6" y2="654.5" stroke="#444" stroke-width="1"/>
<text transform="translate(496.52 673.1) scale(0.9 1)" font-size="19.6" text-anchor="middle" letter-spacing="1.15">0</text>
<line x1="563.28" y1="649.5" x2="563.28" y2="654.5" stroke="#444" stroke-width="1"/>
<text transform="translate(566.22 673) scale(0.9 1)" font-size="19.6" text-anchor="middle" letter-spacing="1.15">1</text>
<line x1="631.96" y1="649.5" x2="631.96" y2="654.5" stroke="#444" stroke-width="1"/>
<text transform="translate(634.42 673) scale(0.9 1)" font-size="19.6" text-anchor="middle" letter-spacing="1.15">2</text>
<line x1="700.64" y1="649.5" x2="700.64" y2="654.5" stroke="#444" stroke-width="1"/>
<text transform="translate(703.52 673) scale(0.9 1)" font-size="19.6" text-anchor="middle" letter-spacing="1.15">3</text>
<line x1="769.32" y1="649.5" x2="769.32" y2="654.5" stroke="#444" stroke-width="1"/>
<text transform="translate(770.72 673) scale(0.9 1)" font-size="19.6" text-anchor="middle" letter-spacing="1.15">4</text>
<text transform="translate(641.4 693.5) scale(1.03 1)" font-size="19.1" text-anchor="middle">All-<tspan font-style="italic">trans</tspan> retinol (<tspan font-family="'Liberation Serif','DejaVu Serif',serif">μ</tspan>M)</text>
<text transform="translate(443.9 509.85) rotate(-90) scale(1.036 1)" font-size="18.8" text-anchor="middle">Fluorescence Intensity</text>
<text transform="translate(501.29 391.9) scale(0.948 1)" font-size="32.3" text-anchor="start">D</text>
<clipPath id="clipD"><rect x="494.5" y="361.2" width="289.0" height="288.3"/></clipPath>
<path d="M494.8 603.5C497.77 599.92 506.68 589.17 512.6 582C518.52 574.83 524.42 567.67 530.3 560.5C536.18 553.33 542.03 546.17 547.9 539C553.77 531.83 559.62 524.58 565.5 517.5C571.38 510.42 577.32 503.28 583.2 496.5C589.08 489.72 594.98 482.95 600.8 476.8C606.62 470.65 612.3 464.77 618.1 459.6C623.9 454.43 629.78 450.07 635.6 445.8C641.42 441.53 647.2 437.7 653 434C658.8 430.3 664.63 426.73 670.4 423.6C676.17 420.47 681.85 417.75 687.6 415.2C693.35 412.65 699.13 410.4 704.9 408.3C710.67 406.2 716.47 404.32 722.2 402.6C727.93 400.88 733.57 399.33 739.3 398C745.03 396.67 750.9 395.55 756.6 394.6C762.3 393.65 770.68 392.68 773.5 392.3" fill="none" stroke="#1a1a1a" stroke-width="0.9"/>
<path d="M530.3 556.7V564.5M526.8 556.7H533.8M526.8 564.5H533.8" fill="none" stroke="#333" stroke-width="0.8"/>
<path d="M547.9 532.5V546.3M544.4 532.5H551.4M544.4 546.3H551.4" fill="none" stroke="#333" stroke-width="0.8"/>
<path d="M565.5 508.7V523.1M562 508.7H569M562 523.1H569" fill="none" stroke="#333" stroke-width="0.8"/>
<path d="M583.2 487.2V498.6M579.7 487.2H586.7M579.7 498.6H586.7" fill="none" stroke="#333" stroke-width="0.8"/>
<path d="M635.6 440.4V453.2M632.1 440.4H639.1M632.1 453.2H639.1" fill="none" stroke="#333" stroke-width="0.8"/>
<path d="M653 429.4V442.6M649.5 429.4H656.5M649.5 442.6H656.5" fill="none" stroke="#333" stroke-width="0.8"/>
<path d="M670.4 416.5V432.3M666.9 416.5H673.9M666.9 432.3H673.9" fill="none" stroke="#333" stroke-width="0.8"/>
<path d="M687.6 403.5V416.7M684.1 403.5H691.1M684.1 416.7H691.1" fill="none" stroke="#333" stroke-width="0.8"/>
<path d="M722.2 396.5V415.5M718.7 396.5H725.7M718.7 415.5H725.7" fill="none" stroke="#333" stroke-width="0.8"/>
<path d="M739.3 391.5V400.7M735.8 391.5H742.8M735.8 400.7H742.8" fill="none" stroke="#333" stroke-width="0.8"/>
<path d="M756.6 388.9V398.3M753.1 388.9H760.1M753.1 398.3H760.1" fill="none" stroke="#333" stroke-width="0.8"/>
<path d="M773.5 385.4V399.2M770 385.4H777M770 399.2H777" fill="none" stroke="#333" stroke-width="0.8"/>
<g clip-path="url(#clipD)">
<circle cx="494.8" cy="603.5" r="3.8" fill="#1a1a1a"/>
<circle cx="512.6" cy="582.1" r="3.8" fill="#1a1a1a"/>
<circle cx="530.3" cy="560.6" r="3.8" fill="#1a1a1a"/>
<circle cx="547.9" cy="539.4" r="3.8" fill="#1a1a1a"/>
<circle cx="565.5" cy="515.9" r="3.8" fill="#1a1a1a"/>
<circle cx="583.2" cy="492.9" r="3.8" fill="#1a1a1a"/>
<circle cx="600.8" cy="475.9" r="3.8" fill="#1a1a1a"/>
<circle cx="618.1" cy="462.9" r="3.8" fill="#1a1a1a"/>
<circle cx="635.6" cy="446.8" r="3.8" fill="#1a1a1a"/>
<circle cx="653" cy="436" r="3.8" fill="#1a1a1a"/>
<circle cx="670.4" cy="424.4" r="3.8" fill="#1a1a1a"/>
<circle cx="687.6" cy="410.1" r="3.8" fill="#1a1a1a"/>
<circle cx="704.9" cy="412.7" r="3.8" fill="#1a1a1a"/>
<circle cx="722.2" cy="406" r="3.8" fill="#1a1a1a"/>
<circle cx="739.3" cy="396.1" r="3.8" fill="#1a1a1a"/>
<circle cx="756.6" cy="393.6" r="3.8" fill="#1a1a1a"/>
<circle cx="773.5" cy="392.3" r="3.8" fill="#1a1a1a"/>
</g>
</g>
</svg>
</body>
</html>
